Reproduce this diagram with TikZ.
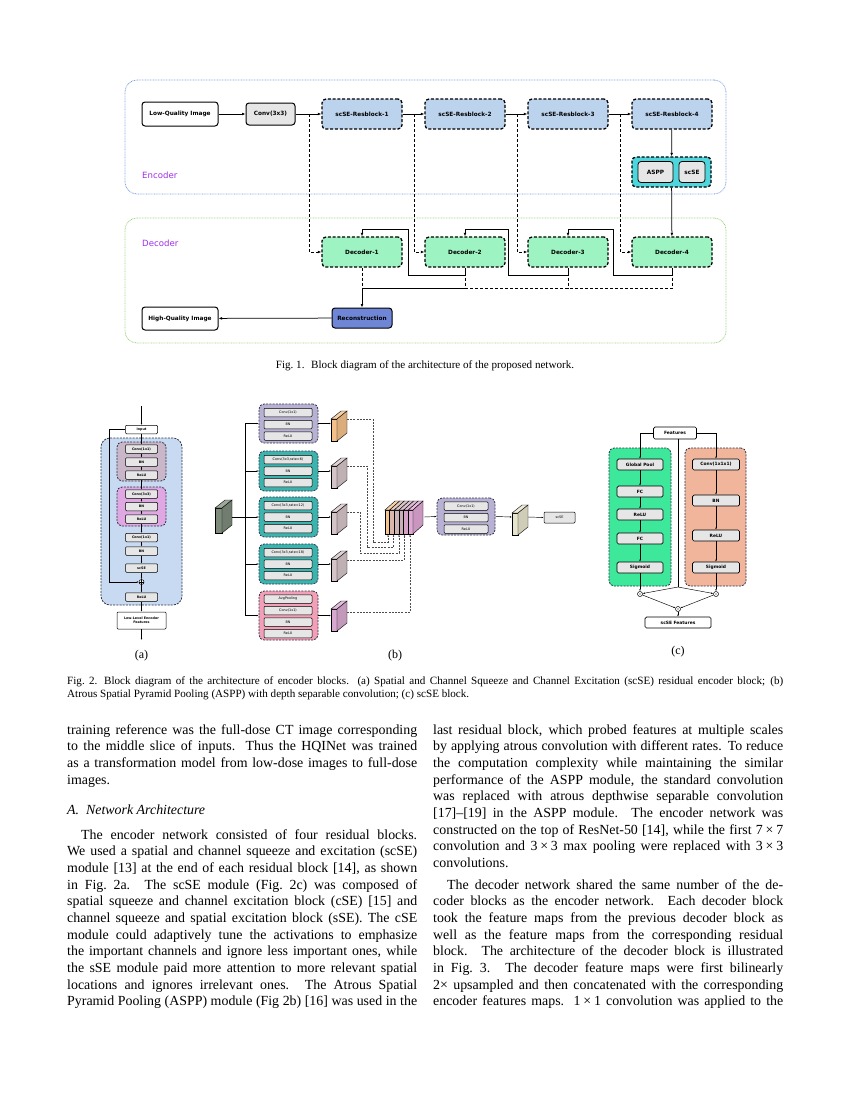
\documentclass[tikz,border=0pt]{standalone}
\usepackage{fontspec}
\setmainfont{Liberation Serif}
\newfontfamily\dvs{DejaVu Sans}
\usetikzlibrary{arrows.meta,calc}
\definecolor{encB}{HTML}{7F9DE0}
\definecolor{decG}{HTML}{9CD47F}
\definecolor{rbF}{HTML}{BCD3EE}
\definecolor{dcF}{HTML}{9EF3C3}
\definecolor{asF}{HTML}{4ED6DC}
\definecolor{recF}{HTML}{6F86D6}
\definecolor{lblP}{HTML}{A12DEB}
\definecolor{boxG}{HTML}{E6E6E6}
\definecolor{aBlue}{HTML}{C7DAF1}
\definecolor{aMauve}{HTML}{C9B7C9}
\definecolor{aPink}{HTML}{E0A8E2}
\definecolor{bPurp}{HTML}{B9B1D3}
\definecolor{bTeal}{HTML}{3DB3AD}
\definecolor{bPink}{HTML}{F2A0B8}
\definecolor{cGreen}{HTML}{3DE89B}
\definecolor{cSalm}{HTML}{F1B59C}
\definecolor{dashD}{HTML}{2F3447}
\definecolor{cubeIn}{HTML}{7E8B7B}
\definecolor{cOr}{HTML}{F3C08A}
\definecolor{cMv}{HTML}{D4C4C7}
\definecolor{cPk}{HTML}{D8A9D0}
\definecolor{cCr}{HTML}{E6E4CC}
\definecolor{sA}{HTML}{F5C58E}
\definecolor{sB}{HTML}{D9B8AB}
\definecolor{sC}{HTML}{CDB3B6}
\definecolor{sD}{HTML}{C9AEB8}
\definecolor{sE}{HTML}{D4A2C6}
\definecolor{sF}{HTML}{DFA7D4}
\newcommand{\jline}[2][350pt]{\makebox[#1][s]{#2}}
\newcommand{\mycube}[5]{%
  \draw[line width=0.4pt,fill=#5] (#1,#2) rectangle ++(#3,#4);
  \draw[line width=0.4pt,fill=#5!75!white] (#1,#2) -- ++(10,-8) -- ++(#3,0) -- ++(-10,8) -- cycle;
  \draw[line width=0.4pt,fill=#5!90!black] (#1+#3,#2) -- ++(10,-8) -- ++(0,#4) -- ++(-10,8) -- cycle;
}
\newcommand{\tms}{\kern0.2em×\kern0.2em}
\begin{document}
\begin{tikzpicture}[x=1pt,y=-1pt,
 ar/.style={-{Latex[length=3.5pt,width=2.8pt]},line width=0.75pt},
 ars/.style={-{Latex[length=2pt,width=1.6pt]},line width=0.45pt},
 dsk/.style={dash pattern=on 3pt off 2pt},
 f1t/.style={font=\dvs\bfseries\fontsize{5.8}{6.8}\selectfont,inner sep=0pt,align=center},
 sbox/.style={f1t,draw,line width=1pt,rounded corners=3pt},
 dbox/.style={f1t,draw,line width=1.3pt,dash pattern=on 3pt off 1.8pt,rounded corners=4pt},
 cont/.style={rounded corners=12pt,line width=0.8pt,dash pattern=on 0.8pt off 0.8pt,inner sep=0pt},
 lbl/.style={font=\dvs\fontsize{8.6}{9.6}\selectfont,text=lblP,anchor=west,inner sep=0pt},
 grp/.style={draw=dashD,line width=0.8pt,dash pattern=on 2pt off 1.2pt,rounded corners=5pt,inner sep=0pt},
 sb/.style={draw,fill=boxG,rounded corners=1pt,line width=0.5pt,minimum width=32pt,minimum height=8.5pt,inner sep=0pt,font=\dvs\bfseries\fontsize{3.3}{3.8}\selectfont,align=center},
 bt/.style={sb,minimum width=48pt,font=\dvs\fontsize{3.4}{4}\selectfont},
 cbx/.style={sb,minimum width=46pt,minimum height=11pt,rounded corners=1.5pt,line width=0.7pt,font=\dvs\bfseries\fontsize{4.4}{5}\selectfont},
 mul/.style={circle,draw,fill=white,minimum size=5pt,inner sep=0pt,line width=0.5pt},
 dsh/.style={dash pattern=on 2pt off 1.2pt,line width=0.55pt,draw=black!70},
 body/.style={font=\fontsize{13.9}{16.67}\selectfont,anchor=base west,inner sep=0pt},
 capt/.style={font=\fontsize{11.1}{13}\selectfont,inner sep=0pt}]
\useasboundingbox (0,0) rectangle (850,1100);
\fill[white] (0,0) rectangle (850,1100);

% ================= Fig. 1 =================
\node[cont,draw=encB,minimum width=601pt,minimum height=114pt] (encbox) at (425.5,137) {};
\node[cont,draw=decG,minimum width=601pt,minimum height=125pt] (decbox) at (425.5,280.5) {};
\node[lbl] (enclbl) at (142,175) {Encoder};
\node[lbl] (declbl) at (142,243) {Decoder};

\node[sbox,fill=white,minimum width=76pt,minimum height=24pt] (lq) at (180,114) {Low-Quality Image};
\node[sbox,fill=boxG,minimum width=49pt,minimum height=22pt] (conv) at (270.5,114) {Conv(3x3)};
\node[dbox,fill=rbF,minimum width=80pt,minimum height=30pt] (rb1) at (362,114) {scSE-Resblock-1};
\node[dbox,fill=rbF,minimum width=80pt,minimum height=30pt] (rb2) at (465,114) {scSE-Resblock-2};
\node[dbox,fill=rbF,minimum width=80pt,minimum height=30pt] (rb3) at (568,114) {scSE-Resblock-3};
\node[dbox,fill=rbF,minimum width=80pt,minimum height=30pt] (rb4) at (672,114) {scSE-Resblock-4};
\node[dbox,fill=asF,minimum width=79pt,minimum height=30pt] (asbox) at (671.5,172) {};
\node[sbox,fill=boxG,line width=0.8pt,minimum width=35pt,minimum height=21pt] (aspp) at (655.5,172) {ASPP};
\node[sbox,fill=boxG,line width=0.8pt,minimum width=26pt,minimum height=21pt] (sse) at (692,172) {scSE};

\node[dbox,fill=dcF,minimum width=80pt,minimum height=30pt] (dec1) at (362,252) {Decoder-1};
\node[dbox,fill=dcF,minimum width=80pt,minimum height=30pt] (dec2) at (465,252) {Decoder-2};
\node[dbox,fill=dcF,minimum width=80pt,minimum height=30pt] (dec3) at (568,252) {Decoder-3};
\node[dbox,fill=dcF,minimum width=80pt,minimum height=30pt] (dec4) at (672,252) {Decoder-4};
\node[sbox,fill=recF,minimum width=60pt,minimum height=20pt] (rec) at (362,318) {Reconstruction};
\node[sbox,fill=white,minimum width=76pt,minimum height=23pt] (hq) at (180,318.5) {High-Quality Image};

\draw[ar] (lq) -- (conv);
\draw[ar] (conv) -- (rb1);
\draw[ar] (rb1) -- (rb2);
\draw[ar] (rb2) -- (rb3);
\draw[ar] (rb3) -- (rb4);
\draw[ar] (rb4) -- (asbox);
\draw[ar] (asbox) -- (dec4);

\coordinate (s1) at (309,114);
\coordinate (s2) at (414,114);
\coordinate (s3) at (517,114);
\coordinate (s4) at (620,114);
\draw[ar,dsk] (s1) |- (dec1.west);
\draw[ar,dsk] (s2) |- (dec2.west);
\draw[ar,dsk] (s3) |- (dec3.west);
\draw[ar,dsk] (s4) |- (dec4.west);

\coordinate (u1b) at (408,275); \coordinate (u1t) at (408,229);
\coordinate (u2b) at (508,275); \coordinate (u2t) at (508,229);
\coordinate (u3b) at (613,275); \coordinate (u3t) at (613,229);
\draw[ar] (dec2.south) |- (u1b) -- (u1t) -| (dec1.north);
\draw[ar] (dec3.south) |- (u2b) -- (u2t) -| (dec2.north);
\draw[ar] (dec4.south) |- (u3b) -- (u3t) -| (dec3.north);

\coordinate (r1) at (362,288);
\coordinate (r2) at (465,288);
\coordinate (r3) at (568,288);
\coordinate (r4) at (672,288);
\draw[line width=0.75pt,dsk] (dec1.south) -- (r1);
\draw[ar] (r1) -- (rec.north);
\draw[line width=0.75pt] (r1) -- (r2);
\draw[line width=0.75pt,dsk] (r2) -- (r4);
\draw[line width=0.75pt,dsk] (dec2.south) -- (r2);
\draw[line width=0.75pt,dsk] (dec3.south) -- (r3);
\draw[line width=0.75pt,dsk] (dec4.south) -- (r4);
\draw[ar] (rec) -- (hq);

\node[capt,anchor=base] (cap1) at (425,368) {Fig.~1.\hspace{0.6em}Block diagram of the architecture of the proposed network.};

% ================= Fig. 2(a) =================
\node[grp,fill=aBlue,minimum width=81pt,minimum height=167pt,rounded corners=9pt] (acont) at (141.5,521.5) {};
\node[grp,fill=aMauve,minimum width=49pt,minimum height=39pt] (ag1) at (141.5,461.5) {};
\node[grp,fill=aPink,minimum width=49pt,minimum height=39pt] (ag2) at (141.5,506.5) {};
\node[sb,fill=white] (ain) at (141.5,429.5) {Input};
\node[sb] (ac1) at (141.5,449) {Conv(1x1)};
\node[sb] (ab1) at (141.5,462) {BN};
\node[sb] (ar1) at (141.5,475) {ReLU};
\node[sb] (ac2) at (141.5,494) {Conv(3x3)};
\node[sb] (ab2) at (141.5,506.5) {BN};
\node[sb] (ar2) at (141.5,519) {ReLU};
\node[sb] (ac3) at (141.5,537.5) {Conv(1x1)};
\node[sb] (ab3) at (141.5,551) {BN};
\node[sb] (ase) at (141.5,568) {scSE};
\node[mul] (aplus) at (141.5,582) {};
\draw[line width=0.4pt] (aplus.north) -- (aplus.south) (aplus.west) -- (aplus.east);
\node[sb] (ar3) at (141.5,597) {ReLU};
\node[sb,fill=white,minimum width=49pt,minimum height=17pt] (aout) at (141.5,620.5) {Low-Level Encoder\\Features};
\coordinate (atop) at (141.5,406);
\coordinate (abot) at (141.5,640);
\draw[ars] (atop) -- (ain);
\draw[ars] (ain) -- (ac1);
\draw[ars] (ac1) -- (ab1);
\draw[ars] (ab1) -- (ar1);
\draw[ars] (ar1) -- (ac2);
\draw[ars] (ac2) -- (ab2);
\draw[ars] (ab2) -- (ar2);
\draw[ars] (ar2) -- (ac3);
\draw[ars] (ac3) -- (ab3);
\draw[ars] (ab3) -- (ase);
\draw[ars] (ase) -- (aplus);
\draw[ars] (aplus) -- (ar3);
\draw[ars] (ar3) -- (aout);
\draw[ars] (aout) -- (abot);
\draw[ars] (ain.west) -- ++(-16,0) |- (aplus.west);
\node[font=\fontsize{12}{14}\selectfont] (la) at (141.5,656) {(a)};

% ================= Fig. 2(b) =================
\mycube{215}{508}{7}{25}{cubeIn}
\coordinate (incube) at (232,517);
\coordinate (bsplit) at (245,517);
\coordinate (btop) at (245,423.5);
\coordinate (bbot) at (245,615.5);
\draw[line width=0.5pt] (incube) -- (bsplit);
\draw[line width=0.5pt] (btop) -- (bbot);

\node[grp,fill=bPurp,minimum width=59pt,minimum height=39pt] (bg1) at (288.5,423.5) {};
\node[grp,fill=bTeal,minimum width=59pt,minimum height=40pt] (bg2) at (288.5,471) {};
\node[grp,fill=bTeal,minimum width=59pt,minimum height=40pt] (bg3) at (288.5,517) {};
\node[grp,fill=bTeal,minimum width=59pt,minimum height=40pt] (bg4) at (288.5,564) {};
\node[grp,fill=bPink,minimum width=59pt,minimum height=49pt] (bg5) at (288.5,615.5) {};
\node[bt] (b11) at (288,412.5) {Conv(1x1)};
\node[bt] (b12) at (288,424.5) {BN};
\node[bt] (b13) at (288,436) {ReLU};
\node[bt] (b21) at (288,459.5) {Conv(3x3,rate=6)};
\node[bt] (b22) at (288,471) {BN};
\node[bt] (b23) at (288,482.5) {ReLU};
\node[bt] (b31) at (288,505.5) {Conv(3x3,rate=12)};
\node[bt] (b32) at (288,517) {BN};
\node[bt] (b33) at (288,528.5) {ReLU};
\node[bt] (b41) at (288,552.5) {Conv(3x3,rate=18)};
\node[bt] (b42) at (288,564) {BN};
\node[bt] (b43) at (288,575.5) {ReLU};
\node[bt] (b51) at (288,599) {AvgPooling};
\node[bt] (b52) at (288,610.5) {Conv(1x1)};
\node[bt] (b53) at (288,622) {BN};
\node[bt] (b54) at (288,633.5) {ReLU};
\draw[ars] (bsplit |- bg1.west) -- (bg1.west);
\draw[ars] (bsplit |- bg2.west) -- (bg2.west);
\draw[ars] (bsplit) -- (bg3.west);
\draw[ars] (bsplit |- bg4.west) -- (bg4.west);
\draw[ars] (bbot) -- (bg5.west);

\mycube{331}{419}{6}{22}{cOr}
\mycube{331}{466}{6}{22}{cMv}
\mycube{331}{512}{6}{22}{cMv}
\mycube{331}{559}{6}{22}{cMv}
\mycube{331}{609}{6}{22}{cPk}
\coordinate (cf1) at (331,423.5);
\coordinate (cf2) at (331,471);
\coordinate (cf3) at (331,517);
\coordinate (cf4) at (331,564);
\coordinate (cf5) at (331,615.5);
\draw[ars] (bg1.east) -- (cf1);
\draw[ars] (bg2.east) -- (cf2);
\draw[ars] (bg3.east) -- (cf3);
\draw[ars] (bg4.east) -- (cf4);
\draw[ars] (bg5.east) -- (cf5);

% concatenated block
\foreach \c [count=\i from 0] in {sA,sB,sC,sD,sE,sF}{
  \draw[line width=0.4pt,fill=\c] ({385+4.67*\i},510) rectangle ++(4.67,24);
  \draw[line width=0.4pt,fill=\c!75!white] ({385+4.67*\i},510) -- ++(10,-9) -- ++(4.67,0) -- ++(-10,9) -- cycle;
}
\draw[line width=0.4pt,fill=sF!90!black] (413,510) -- ++(10,-9) -- ++(0,24) -- ++(-10,9) -- cycle;

\coordinate (o1) at (347,419);
\coordinate (o2) at (347,466);
\coordinate (o3) at (347,512);
\coordinate (o4) at (347,560);
\coordinate (o5) at (347,612);
\coordinate (v1) at (373,542);
\coordinate (v2) at (367,547);
\coordinate (v3) at (360,553);
\coordinate (i1) at (388,534.5);
\coordinate (i2) at (393.5,534.5);
\coordinate (i3) at (399,534.5);
\coordinate (i4) at (404.5,534.5);
\coordinate (i5) at (410,534.5);
\draw[dsh,ars] (o1) -| (v1) -| (i1);
\draw[dsh,ars] (o2) -| (v2) -| (i2);
\draw[dsh,ars] (o3) -| (v3) -| (i3);
\draw[dsh,ars] (o4) -| (i4);
\draw[dsh,ars] (o5) -| (i5);

\coordinate (ccat) at (424,517);
\node[grp,fill=bPurp,minimum width=58pt,minimum height=37pt] (bfin) at (466,516.5) {};
\node[bt,minimum width=44pt] (bf1) at (466,506) {Conv(1x1)};
\node[bt,minimum width=44pt] (bf2) at (466,517.5) {BN};
\node[bt,minimum width=44pt] (bf3) at (466,529) {ReLU};
\draw[ars] (ccat) -- (bfin.west);
\mycube{512}{513}{6}{22}{cCr}
\coordinate (fcin) at (512,517);
\coordinate (fcout) at (528,517);
\draw[ars] (bfin.east) -- (fcin);
\node[bt,minimum width=31pt,minimum height=11pt] (bse) at (559.5,517.5) {scSE};
\draw[ars] (fcout) -- (bse.west);
\node[font=\fontsize{12}{14}\selectfont] (lb) at (395,656) {(b)};

% ================= Fig. 2(c) =================
\node[grp,fill=cGreen,minimum width=62pt,minimum height=138pt] (cgl) at (640,517) {};
\node[grp,fill=cSalm,minimum width=61pt,minimum height=138pt] (cgr) at (715.5,517) {};
\node[cbx,fill=white,minimum width=43pt,minimum height=12pt] (cfeat) at (675,433) {Features};
\node[cbx] (cgp) at (640,464.5) {Global Pool};
\node[cbx] (cfc1) at (640,491.5) {FC};
\node[cbx] (cre1) at (640,514.5) {ReLU};
\node[cbx] (cfc2) at (640,538.5) {FC};
\node[cbx] (csg1) at (640,567.5) {Sigmoid};
\node[cbx,minimum width=47pt] (ccv) at (716,464.5) {Conv(1x1x1)};
\node[cbx,minimum width=47pt] (cbn) at (716,500.5) {BN};
\node[cbx,minimum width=47pt] (cre2) at (716,535.5) {ReLU};
\node[cbx,minimum width=47pt] (csg2) at (716,567.5) {Sigmoid};
\node[mul] (cm1) at (640,594) {};
\node[mul] (cm2) at (716,594) {};
\node[mul] (cm3) at (678,609) {};
\fill (cm1) circle (0.7pt);
\fill (cm2) circle (0.7pt);
\fill (cm3) circle (0.7pt);
\node[cbx,fill=white,minimum width=66pt] (csf) at (678,622.5) {scSE Features};
\coordinate (cj) at (678,587);
\draw[ars] (cfeat.west) -| (cgp.north);
\draw[ars] (cfeat.east) -| (ccv.north);
\draw[line width=0.45pt] (cj |- cfeat.south) -- (cj);
\draw[ars] (cj) -- (cm1);
\draw[ars] (cj) -- (cm2);
\draw[ars] (cgp) -- (cfc1);
\draw[ars] (cfc1) -- (cre1);
\draw[ars] (cre1) -- (cfc2);
\draw[ars] (cfc2) -- (csg1);
\draw[ars] (ccv) -- (cbn);
\draw[ars] (cbn) -- (cre2);
\draw[ars] (cre2) -- (csg2);
\draw[ars] (csg1) -- (cm1);
\draw[ars] (csg2) -- (cm2);
\draw[ars] (cm1) -- (cm3);
\draw[ars] (cm2) -- (cm3);
\draw[ars] (cm3) -- (csf);
\node[font=\fontsize{12}{14}\selectfont] (lc) at (678,652) {(c)};

% ================= Fig. 2 caption =================
\node[capt,anchor=base west] (cap2a) at (67,684) {\jline[716pt]{Fig.~2.\hspace{0.6em}Block diagram of the architecture of encoder blocks. (a) Spatial and Channel Squeeze and Channel Excitation (scSE) residual encoder block; (b)}};
\node[capt,anchor=base west] (cap2b) at (67,697) {Atrous Spatial Pyramid Pooling (ASPP) with depth separable convolution; (c) scSE block.};

% ================= Body text, left column =================
\node[body] (l01) at (67,734) {\jline{training reference was the full-dose CT image corresponding}};
\node[body] (l02) at (67,750.7) {\jline{to the middle slice of inputs. Thus the HQINet was trained}};
\node[body] (l03) at (67,767.3) {\jline{as a transformation model from low-dose images to full-dose}};
\node[body] (l04) at (67,784) {images.};
\node[body] (l05) at (67,814) {\textit{A.\hspace{0.5em}Network Architecture}};
\node[body] (l06) at (81,839) {\jline[336pt]{The encoder network consisted of four residual blocks.}};
\node[body] (l07) at (67,855.7) {\jline{We used a spatial and channel squeeze and excitation (scSE)}};
\node[body] (l08) at (67,872.3) {\jline{module [13] at the end of each residual block [14], as shown}};
\node[body] (l09) at (67,889) {\jline{in Fig.\ 2a. The scSE module (Fig.\ 2c) was composed of}};
\node[body] (l10) at (67,905.7) {\jline{spatial squeeze and channel excitation block (cSE) [15] and}};
\node[body] (l11) at (67,922.3) {\jline{channel squeeze and spatial excitation block (sSE). The cSE}};
\node[body] (l12) at (67,939) {\jline{module could adaptively tune the activations to emphasize}};
\node[body] (l13) at (67,955.7) {\jline{the important channels and ignore less important ones, while}};
\node[body] (l14) at (67,972.3) {\jline{the sSE module paid more attention to more relevant spatial}};
\node[body] (l15) at (67,989) {\jline{locations and ignores irrelevant ones. The Atrous Spatial}};
\node[body] (l16) at (67,1005.7) {\jline{Pyramid Pooling (ASPP) module (Fig 2b) [16] was used in the}};

% ================= Body text, right column =================
\node[body] (r01) at (433,734) {\jline{last residual block, which probed features at multiple scales}};
\node[body] (r02) at (433,750.7) {\jline{by applying atrous convolution with different rates. To reduce}};
\node[body] (r03) at (433,767.3) {\jline{the computation complexity while maintaining the similar}};
\node[body] (r04) at (433,784) {\jline{performance of the ASPP module, the standard convolution}};
\node[body] (r05) at (433,800.7) {\jline{was replaced with atrous depthwise separable convolution}};
\node[body] (r06) at (433,817.3) {\jline{[17]–[19] in the ASPP module. The encoder network was}};
\node[body] (r07) at (433,834) {\jline{constructed on the top of ResNet-50 [14], while the first 7\tms7}};
\node[body] (r08) at (433,850.7) {\jline{convolution and 3\tms3 max pooling were replaced with 3\tms3}};
\node[body] (r09) at (433,867.3) {convolutions.};
\node[body] (r10) at (447,889) {\jline[336pt]{The decoder network shared the same number of the de-}};
\node[body] (r11) at (433,905.7) {\jline{coder blocks as the encoder network. Each decoder block}};
\node[body] (r12) at (433,922.3) {\jline{took the feature maps from the previous decoder block as}};
\node[body] (r13) at (433,939) {\jline{well as the feature maps from the corresponding residual}};
\node[body] (r14) at (433,955.7) {\jline{block. The architecture of the decoder block is illustrated}};
\node[body] (r15) at (433,972.3) {\jline{in Fig.\ 3. The decoder feature maps were first bilinearly}};
\node[body] (r16) at (433,989) {\jline{2× upsampled and then concatenated with the corresponding}};
\node[body] (r17) at (433,1005.7) {\jline{encoder features maps. 1\tms1 convolution was applied to the}};
\end{tikzpicture}
\end{document}
